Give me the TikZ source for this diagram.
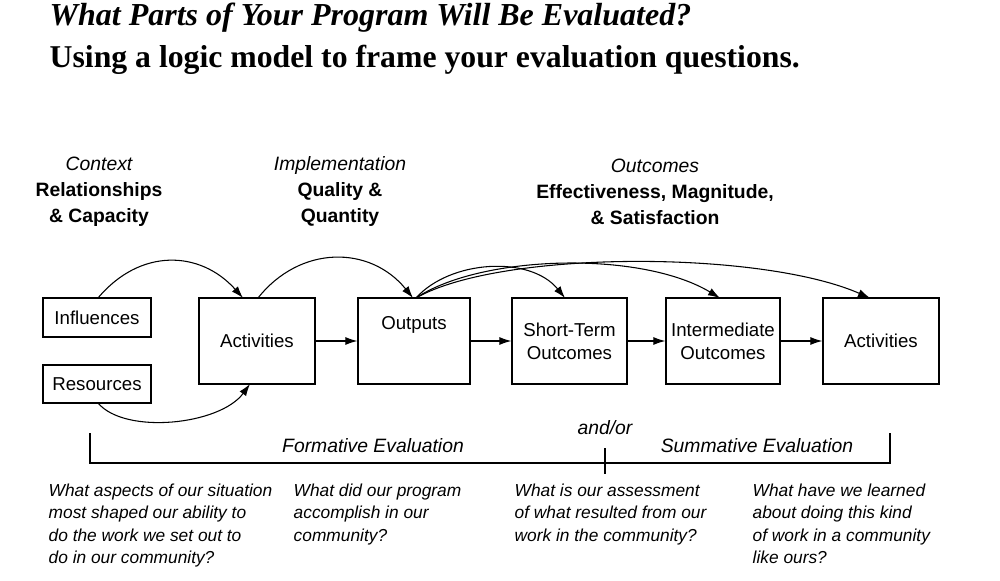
\documentclass[tikz,border=0pt]{standalone}
\usepackage{fontspec}
\setmainfont{Liberation Sans}
\newfontfamily\ttlfont{Liberation Serif}
\usetikzlibrary{arrows.meta}
\begin{document}
\begin{tikzpicture}[x=0.75pt,y=-0.75pt,
  box/.style={draw,line width=0.9pt,minimum width=#1,inner sep=0pt,font=\fontsize{14}{17}\selectfont,align=center},
  arr/.style={-{Latex[length=9pt,width=6pt]},line width=0.8pt},
  hd/.style={font=\fontsize{14.5}{19.5}\selectfont,align=center},
  q/.style={font=\fontsize{13}{16.8}\selectfont\itshape,align=left,anchor=north west}]
\useasboundingbox (0,0) rectangle (1000,581);
\node[anchor=west,font=\ttlfont\bfseries\itshape\fontsize{24}{27}\selectfont] (t1) at (45,18) {What Parts of Your Program Will Be Evaluated?};
\node[anchor=west,font=\ttlfont\bfseries\fontsize{23.8}{27}\selectfont] (t2) at (45,60) {Using a logic model to frame your evaluation questions.};
% headers
\node[hd] (h1) at (99,192) {\itshape Context\\\bfseries Relationships\\\bfseries \& Capacity};
\node[hd] (h2) at (340,192) {\itshape Implementation\\\bfseries Quality \&\\\bfseries Quantity};
\node[hd] (h3) at (655,192) {\itshape Outcomes\\\bfseries Effectiveness, Magnitude,\\\bfseries \& Satisfaction};
% boxes
\node[box=108pt*0.75,minimum height=39pt*0.75] (inf) at (97,317.5) {Influences};
\node[box=108pt*0.75,minimum height=38pt*0.75] (res) at (97,384) {Resources};
\node[box=116pt*0.75,minimum height=86pt*0.75] (act) at (257,341) {Activities};
\node[box=112pt*0.75,minimum height=86pt*0.75] (out) at (414,341) {Outputs\\[10pt]};
\node[box=115pt*0.75,minimum height=86pt*0.75] (st) at (569.5,341) {Short-Term\\Outcomes};
\node[box=114pt*0.75,minimum height=86pt*0.75] (im) at (723,341) {Intermediate\\Outcomes};
\node[box=116pt*0.75,minimum height=86pt*0.75] (act2) at (881,341) {Activities};
% straight arrows
\draw[arr] (act.east) -- (out.west);
\draw[arr] (out.east) -- (st.west);
\draw[arr] (st.east) -- (im.west);
\draw[arr] (im.east) -- (act2.west);
% curved arrows
\coordinate (a1) at (98,298); \coordinate (a2) at (243,298);
\draw[arr] (a1) .. controls (140,248) and (200,250) .. (a2);
\coordinate (b1) at (98,403); \coordinate (b2) at (250,384);
\draw[arr] (b1) .. controls (125,435) and (220,425) .. (b2);
\coordinate (c1) at (258,298); \coordinate (c2) at (413,298);
\draw[arr] (c1) .. controls (300,245) and (370,245) .. (c2);
\coordinate (o1) at (416,298);
\coordinate (d1) at (565,298); \coordinate (d2) at (720,298); \coordinate (d3) at (870,298);
\draw[arr] (o1) .. controls (450,260) and (530,255) .. (d1);
\draw[arr] (o1) .. controls (480,255) and (640,250) .. (d2);
\draw[arr] (o1) .. controls (500,250) and (760,250) .. (d3);
% bracket
\coordinate (bl) at (90,433); \coordinate (br) at (890,433);
\draw[line width=0.8pt] (bl) -- (90,463) -- (890,463) -- (br);
\coordinate (m1) at (605,448); \coordinate (m2) at (605,474);
\draw[line width=0.8pt] (m1) -- (m2);
\node[font=\fontsize{14.5}{18}\selectfont\itshape] (ao) at (605,428) {and/or};
\node[font=\fontsize{14.5}{18}\selectfont\itshape] (fe) at (373,446) {Formative Evaluation};
\node[font=\fontsize{14.5}{18}\selectfont\itshape] (se) at (757,446) {Summative Evaluation};
% questions
\node[q] (q1) at (44,479) {What aspects of our situation\\most shaped our ability to\\do the work we set out to\\do in our community?};
\node[q] (q2) at (289,479) {What did our program\\accomplish in our\\community?};
\node[q] (q3) at (510,479) {What is our assessment\\of what resulted from our\\work in the community?};
\node[q] (q4) at (748,479) {What have we learned\\about doing this kind\\of work in a community\\like ours?};
\end{tikzpicture}
\end{document}
